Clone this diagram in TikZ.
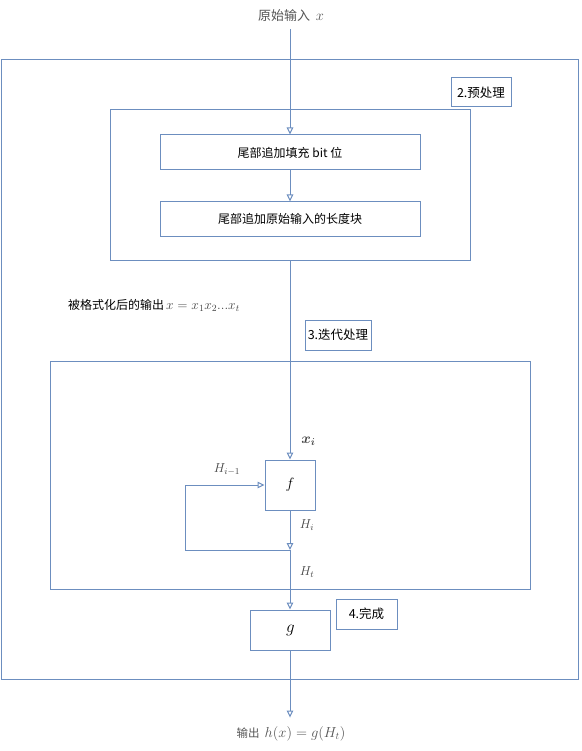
\RequirePackage{fix-cm}
\documentclass[tikz,border=0pt]{standalone}
\usepackage{bm}
\usepackage[no-math]{fontspec}
\setmainfont{Noto Sans CJK SC}
\usetikzlibrary{arrows.meta}
\definecolor{edgeblue}{HTML}{6C8EBF}
\definecolor{txtgray}{HTML}{555555}
\definecolor{mathgray}{HTML}{444444}
\begin{document}
\begin{tikzpicture}[x=1pt,y=-1pt,
  container/.style={draw=edgeblue, line width=1pt, fill=none, inner sep=0pt},
  box/.style={draw=edgeblue, line width=1pt, fill=white, inner sep=0pt, text=black, font=\fontsize{12}{14}\selectfont},
  stagebox/.style={box, font=\fontsize{12.5}{14}\selectfont},
  arr/.style={draw=edgeblue, line width=1pt, -{Triangle[open,length=7pt,width=6.5pt]}},
  ln/.style={draw=edgeblue, line width=1pt},
  mlabel/.style={text=mathgray, font=\fontsize{13}{15}\selectfont, inner sep=0pt}
]
\useasboundingbox (0,0) rectangle (581,751);
% containers
\node[container, minimum width=577pt, minimum height=619pt] (outer) at (289.5,369.5) {};
\node[container, minimum width=360pt, minimum height=150pt] (pre) at (290,185) {};
\node[container, minimum width=480pt, minimum height=228pt] (iter) at (290,475) {};
% stage labels
\node[stagebox, minimum width=60pt, minimum height=29pt] (lab2) at (481,92.5) {2.预处理};
\node[stagebox, minimum width=66pt, minimum height=30pt] (lab3) at (338,335) {3.迭代处理};
\node[stagebox, minimum width=61pt, minimum height=30pt] (lab4) at (366.5,614) {4.完成};
% texts
\node[text=txtgray, font=\fontsize{13}{15}\selectfont, inner sep=0pt] (title) at (291,16) {原始输入\ \ {\fontsize{14.5}{16}\selectfont$x$}};
\node[text=black, font=\fontsize{12}{14}\selectfont, inner sep=0pt, anchor=west] (fmt) at (68,305) {被格式化后的输出\,{\fontsize{13.5}{15}\selectfont\textcolor{mathgray}{$x=x_1x_2...x_t$}}};
\node[text=txtgray, font=\fontsize{11.5}{14}\selectfont, inner sep=0pt] (out) at (291,734) {输出\ \ {\fontsize{14.5}{16}\selectfont$h(x)=g(H_t)$}};
% process boxes
\node[box, minimum width=260pt, minimum height=35pt] (b1) at (290,152.5) {尾部追加填充 bit 位};
\node[box, minimum width=260pt, minimum height=34pt] (b2) at (290,219) {尾部追加原始输入的长度块};
\node[box, minimum width=50pt, minimum height=50pt, font=\fontsize{15}{17}\selectfont] (f) at (290,485) {$f$};
\node[box, minimum width=80pt, minimum height=40pt, font=\fontsize{17}{19}\selectfont] (g) at (290.5,630) {$g$};
\coordinate (j) at (290,550);
% connectors
\draw[arr, shorten <=7pt] (title.south -| b1.north) -- (b1.north);
\draw[arr] (b1) -- (b2);
\draw[arr] (pre.south) -- (f.north);
\draw[arr] (f) -- (j);
\draw[arr] (j) -- ++(-105,0) |- (f.west);
\draw[arr] (j) -- (j |- g.north);
\draw[arr, shorten >=9pt] (g.south -| j) -- (j |- out.north);
% math labels
\node[mlabel, font=\fontsize{14.5}{16}\selectfont] (lxi) at (308.5,441) {$\bm{x}_{\bm{i}}$};
\node[mlabel] (lhim) at (227,469) {$H_{i-1}$};
\node[mlabel] (lhi) at (307,525) {$H_i$};
\node[mlabel] (lht) at (307,572) {$H_t$};
\end{tikzpicture}
\end{document}
